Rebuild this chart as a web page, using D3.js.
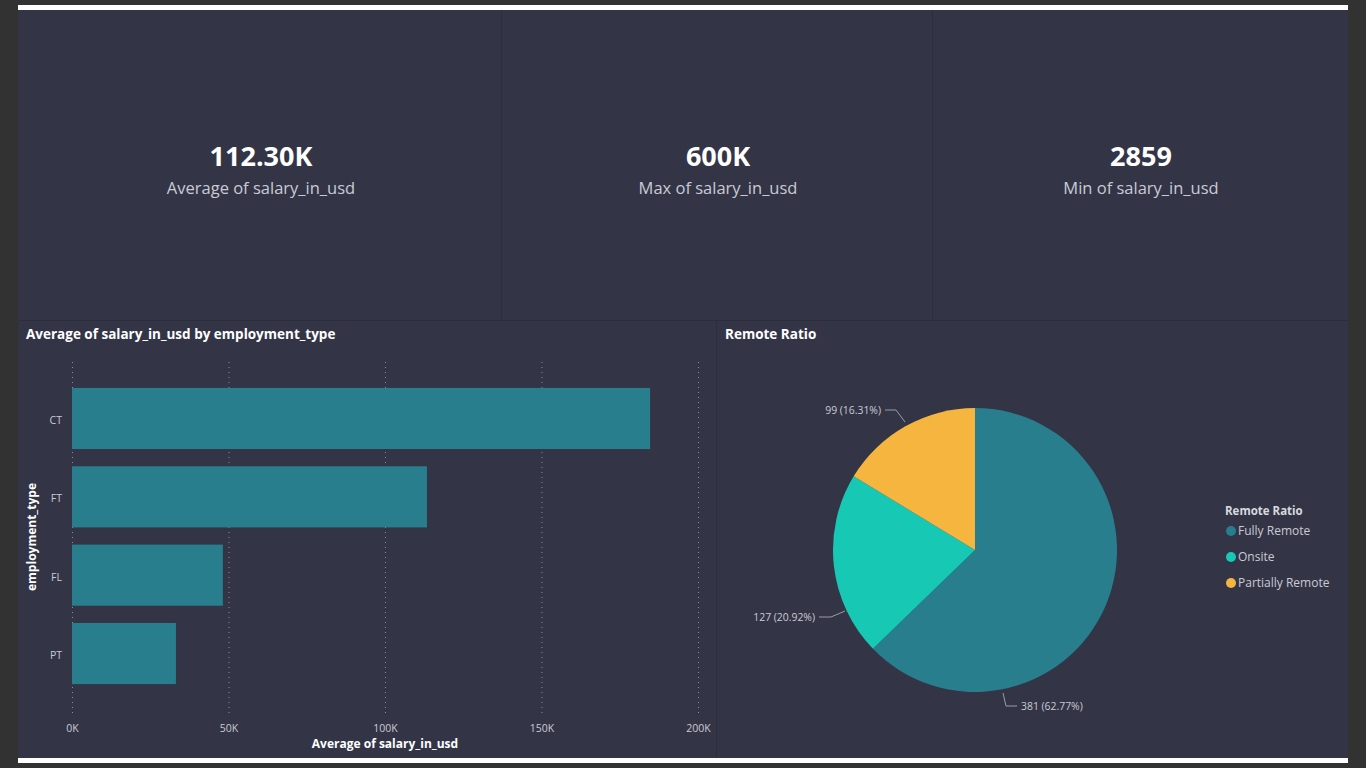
<!DOCTYPE html>
<html><head><meta charset="utf-8">
<script src="https://cdn.jsdelivr.net/npm/d3@7"></script>
<style>
html,body{margin:0;padding:0;background:#323232;}
svg{display:block;}
text{font-family:"Open Sans","Noto Sans",sans-serif;}
</style></head>
<body><svg id="c" width="1366" height="768"></svg>
<script>
const kpiValues = ["112.30K", "600K", "2859"];
const kpiLabels = ["Average of salary_in_usd", "Max of salary_in_usd", "Min of salary_in_usd"];
const employmentTypes = ["CT", "FT", "FL", "PT"];
const avgSalary = [184700, 113400, 48200, 33200];
const xTicks = [0, 50000, 100000, 150000, 200000];
const remoteCategories = ["Fully Remote", "Onsite", "Partially Remote"];
const remoteCounts = [381, 127, 99];
const remoteColors = ["#297E8E", "#17C9B5", "#F5B53F"];

const svg = d3.select("#c");
const bg = "#333547";
svg.append("rect").attr("x",18).attr("y",5).attr("width",1330).attr("height",5).attr("fill","#fff");
svg.append("rect").attr("x",18).attr("y",758).attr("width",1330).attr("height",5).attr("fill","#fff");
svg.append("rect").attr("x",18).attr("y",10).attr("width",1330).attr("height",748).attr("fill",bg);
const sep = "#2c2d3d";
svg.append("line").attr("x1",501.5).attr("x2",501.5).attr("y1",10).attr("y2",320).attr("stroke",sep);
svg.append("line").attr("x1",932.5).attr("x2",932.5).attr("y1",10).attr("y2",320).attr("stroke",sep);
svg.append("line").attr("x1",18).attr("x2",1348).attr("y1",320.5).attr("y2",320.5).attr("stroke",sep);
svg.append("line").attr("x1",716.5).attr("x2",716.5).attr("y1",321).attr("y2",758).attr("stroke",sep);

const kpiX = [261, 718, 1141];
kpiValues.forEach((v,i)=>{
  svg.append("text").attr("x",kpiX[i]).attr("y",166).attr("text-anchor","middle")
    .attr("fill","#ffffff").attr("font-size",27).attr("font-weight",700).text(v);
  svg.append("text").attr("x",kpiX[i]).attr("y",194).attr("text-anchor","middle")
    .attr("fill","#c9cbd4").attr("font-size",16.5).text(kpiLabels[i]);
});

svg.append("text").attr("x",26).attr("y",339).attr("fill","#fff").attr("font-size",13.5).attr("font-weight",700)
  .text("Average of salary_in_usd by employment_type");
const x = d3.scaleLinear().domain([0,200000]).range([72,698]);
const y = d3.scaleBand().domain(employmentTypes).range([379.3,692.7]).paddingInner(0.22).paddingOuter(0.11);
const g = svg.append("g");
g.selectAll(".grid").data(xTicks).join("line")
  .attr("x1",d=>x(d)+0.5).attr("x2",d=>x(d)+0.5).attr("y1",362).attr("y2",716)
  .attr("stroke","#8a8c99").attr("stroke-dasharray","1,4");
g.selectAll(".bar").data(employmentTypes).join("rect")
  .attr("x",x(0)).attr("y",d=>y(d)).attr("height",y.bandwidth())
  .attr("width",(d,i)=>x(avgSalary[i])-x(0)).attr("fill","#297E8E");
const xAxis = d3.axisBottom(x).tickValues(xTicks).tickFormat(d=>(d/1000)+"K").tickSize(0);
const xa = svg.append("g").attr("transform","translate(0,722)").call(xAxis);
xa.select(".domain").remove();
xa.selectAll("text").attr("fill","#c9cbd4").attr("font-size",10.5);
const yAxis = d3.axisLeft(y).tickSize(0).tickPadding(10);
const ya = svg.append("g").attr("transform","translate(72,2)").call(yAxis);
ya.select(".domain").remove();
ya.selectAll("text").attr("fill","#c9cbd4").attr("font-size",10.5);
svg.append("text").attr("x",385).attr("y",748).attr("text-anchor","middle").attr("fill","#fff")
  .attr("font-size",12).attr("font-weight",700).text("Average of salary_in_usd");
svg.append("text").attr("transform","translate(36,537) rotate(-90)").attr("text-anchor","middle")
  .attr("fill","#fff").attr("font-size",12).attr("font-weight",700).text("employment_type");

svg.append("text").attr("x",725).attr("y",339).attr("fill","#fff").attr("font-size",13.5).attr("font-weight",700)
  .text("Remote Ratio");
const cx = 975, cy = 550, r = 142;
const pie = d3.pie().sort(null).value(d=>d)(remoteCounts);
const arc = d3.arc().innerRadius(0).outerRadius(r);
const pg = svg.append("g").attr("transform",`translate(${cx},${cy})`);
pg.selectAll("path").data(pie).join("path").attr("d",arc).attr("fill",(d,i)=>remoteColors[i]);
const total = d3.sum(remoteCounts);
const labelPos = [
  {pts:[[1003,693],[1006,706],[1017,706]], tx:1021, ty:710, anchor:"start"},
  {pts:[[845,611],[831,617],[819,617]], tx:815, ty:621, anchor:"end"},
  {pts:[[905,422],[896,410],[885,410]], tx:881, ty:414, anchor:"end"}
];
remoteCounts.forEach((c,i)=>{
  const lp = labelPos[i];
  svg.append("polyline").attr("points",lp.pts.map(p=>p.join(",")).join(" "))
    .attr("fill","none").attr("stroke","#9a9ca8").attr("stroke-width",1);
  svg.append("text").attr("x",lp.tx).attr("y",lp.ty).attr("text-anchor",lp.anchor)
    .attr("fill","#c9cbd4").attr("font-size",10.4)
    .text(`${c} (${(c/total*100).toFixed(2)}%)`);
});
svg.append("text").attr("x",1225).attr("y",515).attr("fill","#d8d9df").attr("font-size",11.5).attr("font-weight",700).text("Remote Ratio");
remoteCategories.forEach((cat,i)=>{
  const yy = 531 + i*26;
  svg.append("circle").attr("cx",1231).attr("cy",yy).attr("r",5).attr("fill",remoteColors[i]);
  svg.append("text").attr("x",1238).attr("y",yy+4).attr("fill","#c9cbd4").attr("font-size",12).text(cat);
});
</script></body></html>
